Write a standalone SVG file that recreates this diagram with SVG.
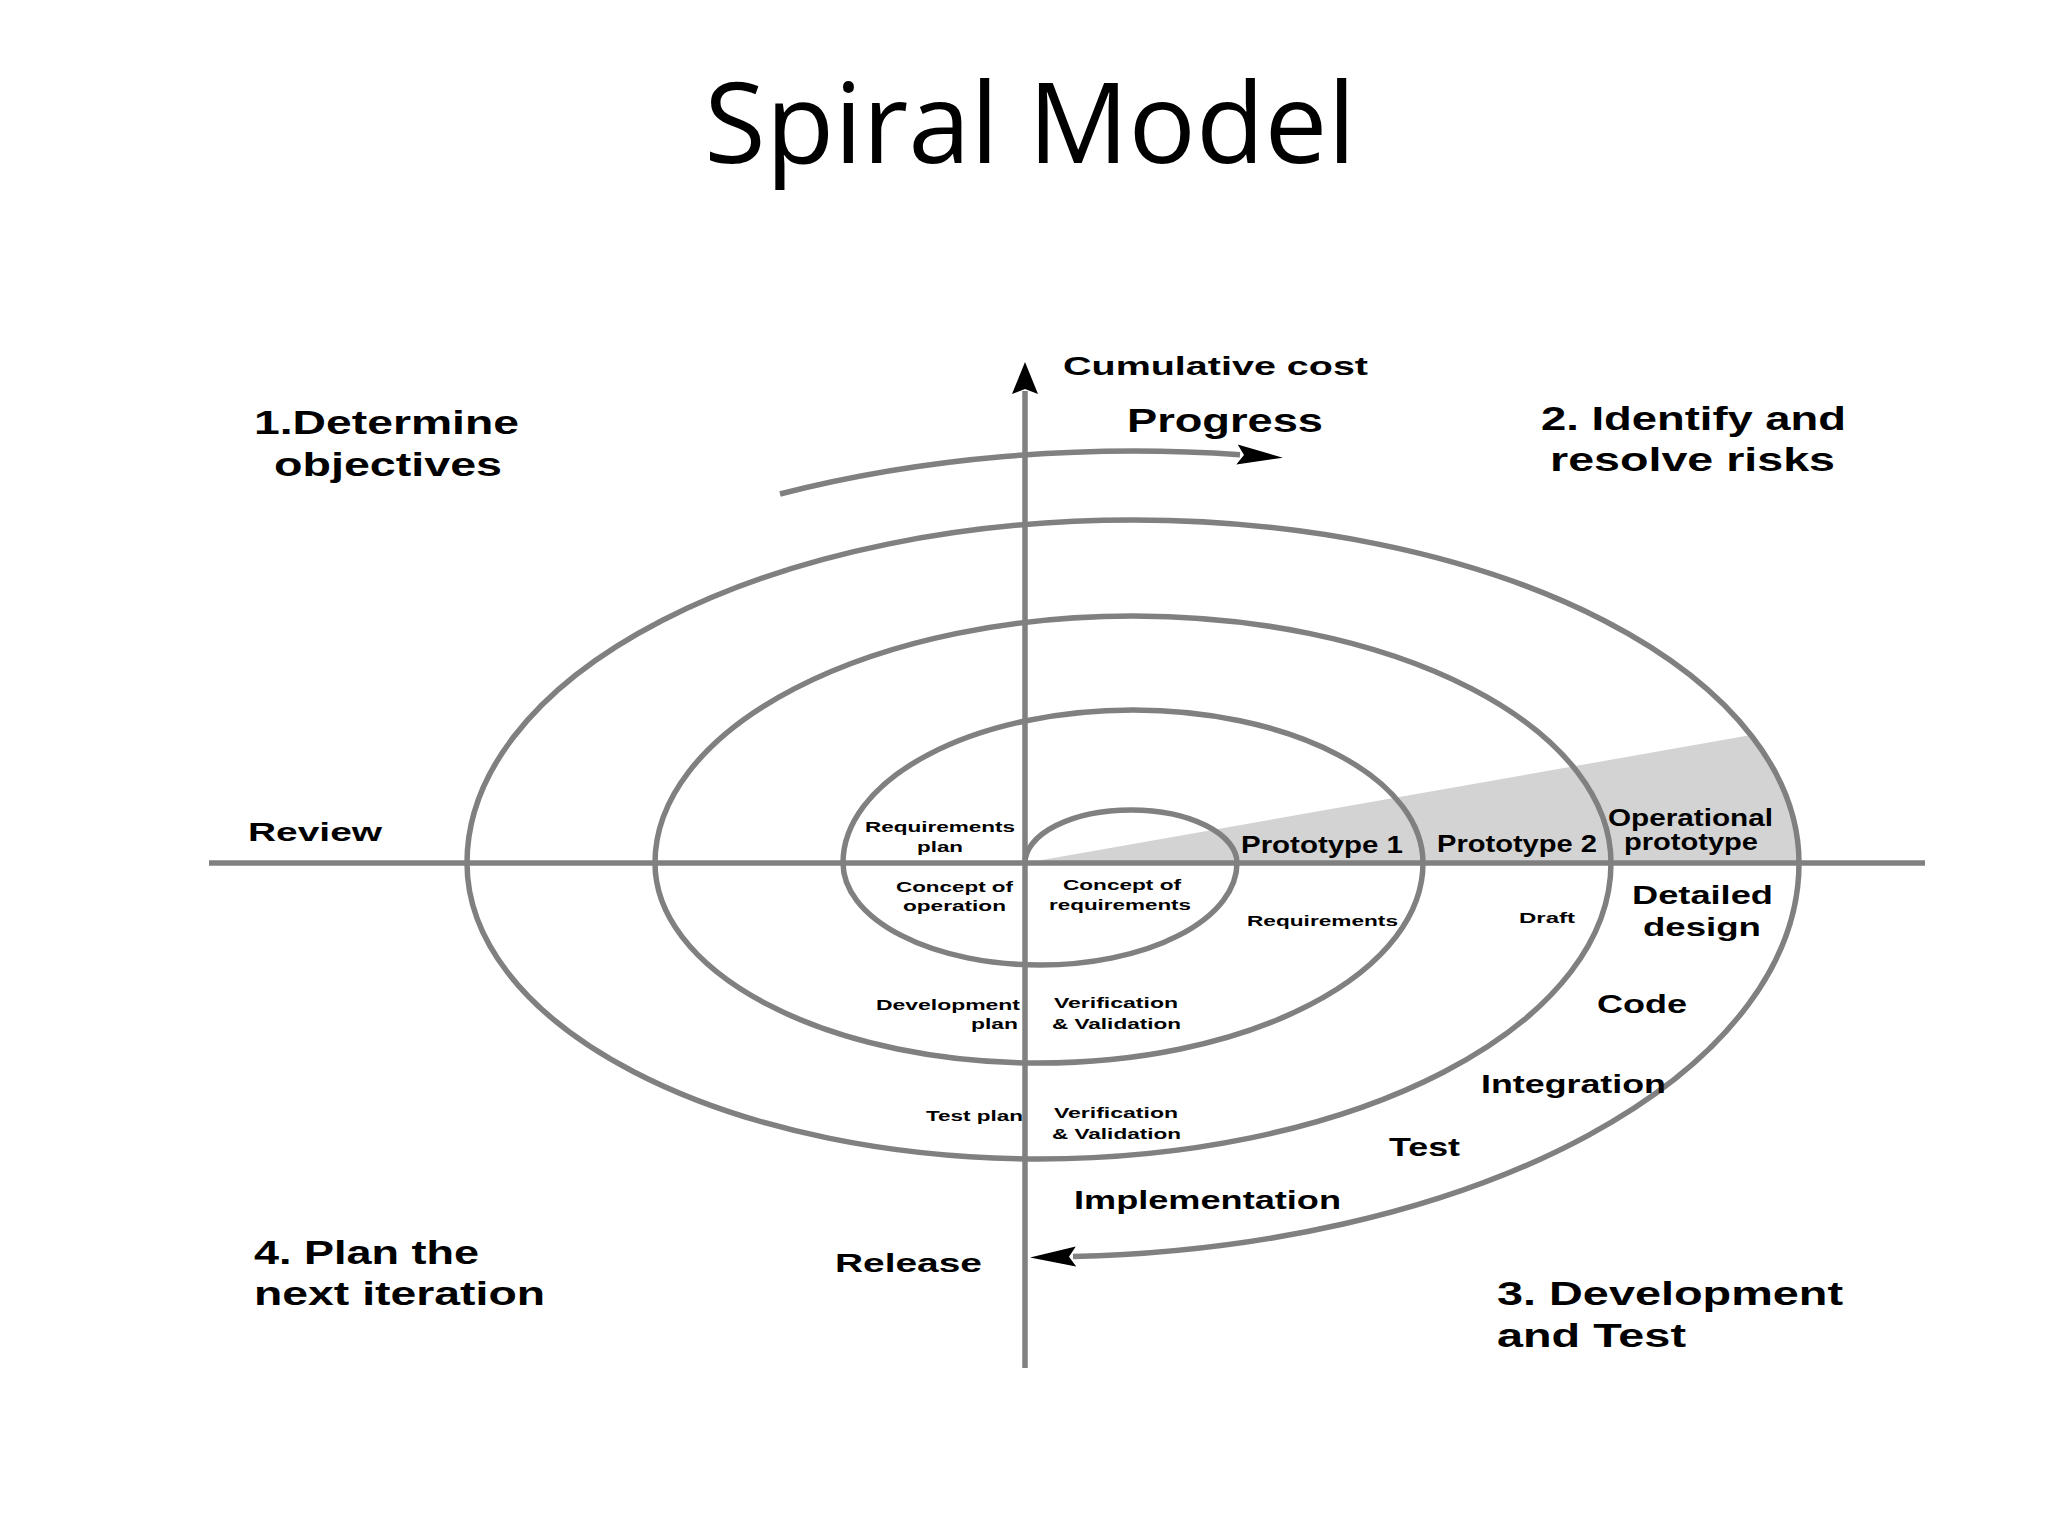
<svg xmlns="http://www.w3.org/2000/svg" width="2048" height="1536" viewBox="0 0 2048 1536">
<style>
.t{font-family:"Liberation Sans",Arial,sans-serif;font-weight:bold;fill:#000}
.q{font-size:33px}
.m{font-size:26px}
.p{font-size:23px}
.s{font-size:15.5px}
.ln{fill:none;stroke:#808080;stroke-width:5.5}
.title{font-family:"Open Sans","Noto Sans",sans-serif;font-size:112px;fill:#000}
</style>
<defs>
<marker id="ah" markerUnits="userSpaceOnUse" viewBox="0 -11 46 22" refX="3" refY="0" markerWidth="46" markerHeight="22" orient="auto">
<path d="M46,0 L0,-10 L7,0 L0,10 Z" fill="#000"/>
</marker>
<marker id="av" markerUnits="userSpaceOnUse" viewBox="0 -14 32 28" refX="3" refY="0" markerWidth="32" markerHeight="28" orient="auto">
<path d="M32,0 L0,-13 L5,0 L0,13 Z" fill="#000"/>
</marker>
</defs>
<rect width="2048" height="1536" fill="#fff"/>
<text class="title" x="1030" y="163" text-anchor="middle">Spiral Model</text>
<path id="wedge" d="M1025,863 L1751,735.1 A666,343 0 0 1 1799,863 Z" fill="#d3d3d3"/>
<g id="connectors">
<path class="ln" d="M209,863 L1925,863"/>
<path class="ln" d="M1025,1368 L1025,391" marker-end="url(#av)"/>
<path class="ln" d="M780,494 A796,412 0 0 1 1240,454.7" marker-end="url(#ah)"/>
<path id="spiral" class="ln" d="M1025,863 A106,53 0 0 1 1237,863 A197,102 0 0 1 843,863 A290,153 0 0 1 1423,863 A384,200 0 0 1 655,863 A478,247 0 0 1 1611,863 A572,296 0 0 1 467,863 A666,343 0 0 1 1799,863 A760,394 0 0 1 1073,1256.6" marker-end="url(#ah)"/>
</g>
<g id="q1"><text class="t q" x="254" y="433.5" textLength="265" lengthAdjust="spacingAndGlyphs">1.Determine</text><text class="t q" x="274" y="475.7" textLength="228" lengthAdjust="spacingAndGlyphs">objectives</text></g>
<g id="q2"><text class="t q" x="1541" y="430" textLength="305" lengthAdjust="spacingAndGlyphs">2. Identify and</text><text class="t q" x="1550" y="471" textLength="285" lengthAdjust="spacingAndGlyphs">resolve risks</text></g>
<g id="q3"><text class="t q" x="1497" y="1305" textLength="346" lengthAdjust="spacingAndGlyphs">3. Development</text><text class="t q" x="1497" y="1347" textLength="189" lengthAdjust="spacingAndGlyphs">and Test</text></g>
<g id="q4"><text class="t q" x="254" y="1264" textLength="225" lengthAdjust="spacingAndGlyphs">4. Plan the</text><text class="t q" x="254" y="1305" textLength="291" lengthAdjust="spacingAndGlyphs">next iteration</text></g>
<g id="cost"><text class="t m" x="1063" y="374.6" textLength="305" lengthAdjust="spacingAndGlyphs">Cumulative cost</text></g>
<g id="progress"><text class="t q" x="1127" y="431.7" textLength="196" lengthAdjust="spacingAndGlyphs">Progress</text></g>
<g id="review"><text class="t m" x="248" y="840.6" textLength="134" lengthAdjust="spacingAndGlyphs">Review</text></g>
<g id="release"><text class="t m" x="835" y="1272" textLength="147" lengthAdjust="spacingAndGlyphs">Release</text></g>
<g id="reqplan"><text class="t s" x="865" y="832.4" textLength="150" lengthAdjust="spacingAndGlyphs">Requirements</text><text class="t s" x="917" y="852" textLength="46" lengthAdjust="spacingAndGlyphs">plan</text></g>
<g id="conop"><text class="t s" x="896" y="891.5" textLength="117" lengthAdjust="spacingAndGlyphs">Concept of</text><text class="t s" x="903" y="911" textLength="103" lengthAdjust="spacingAndGlyphs">operation</text></g>
<g id="conreq"><text class="t s" x="1063" y="889.5" textLength="118" lengthAdjust="spacingAndGlyphs">Concept of</text><text class="t s" x="1049" y="910" textLength="142" lengthAdjust="spacingAndGlyphs">requirements</text></g>
<g id="proto1"><text class="t p" x="1241" y="853" textLength="162" lengthAdjust="spacingAndGlyphs">Prototype 1</text></g>
<g id="proto2"><text class="t p" x="1437" y="851.5" textLength="160" lengthAdjust="spacingAndGlyphs">Prototype 2</text></g>
<g id="opproto"><text class="t p" x="1608" y="826" textLength="165" lengthAdjust="spacingAndGlyphs">Operational</text><text class="t p" x="1624" y="850" textLength="134" lengthAdjust="spacingAndGlyphs">prototype</text></g>
<g id="req"><text class="t s" x="1247" y="925.5" textLength="151" lengthAdjust="spacingAndGlyphs">Requirements</text></g>
<g id="draft"><text class="t s" x="1519" y="922.5" textLength="56" lengthAdjust="spacingAndGlyphs">Draft</text></g>
<g id="detailed"><text class="t m" x="1632" y="903.6" textLength="141" lengthAdjust="spacingAndGlyphs">Detailed</text><text class="t m" x="1643" y="936" textLength="118" lengthAdjust="spacingAndGlyphs">design</text></g>
<g id="devplan"><text class="t s" x="876" y="1009.5" textLength="144" lengthAdjust="spacingAndGlyphs">Development</text><text class="t s" x="971" y="1028.6" textLength="47" lengthAdjust="spacingAndGlyphs">plan</text></g>
<g id="vv1"><text class="t s" x="1054" y="1008" textLength="124" lengthAdjust="spacingAndGlyphs">Verification</text><text class="t s" x="1052" y="1028.5" textLength="129" lengthAdjust="spacingAndGlyphs">&amp; Validation</text></g>
<g id="code"><text class="t m" x="1597" y="1012.5" textLength="90" lengthAdjust="spacingAndGlyphs">Code</text></g>
<g id="integration"><text class="t m" x="1481" y="1093" textLength="185" lengthAdjust="spacingAndGlyphs">Integration</text></g>
<g id="testplan"><text class="t s" x="926" y="1121" textLength="97" lengthAdjust="spacingAndGlyphs">Test plan</text></g>
<g id="vv2"><text class="t s" x="1054" y="1118" textLength="124" lengthAdjust="spacingAndGlyphs">Verification</text><text class="t s" x="1052" y="1138.5" textLength="129" lengthAdjust="spacingAndGlyphs">&amp; Validation</text></g>
<g id="test"><text class="t m" x="1389" y="1156" textLength="71" lengthAdjust="spacingAndGlyphs">Test</text></g>
<g id="impl"><text class="t m" x="1074" y="1209" textLength="267" lengthAdjust="spacingAndGlyphs">Implementation</text></g>
</svg>
